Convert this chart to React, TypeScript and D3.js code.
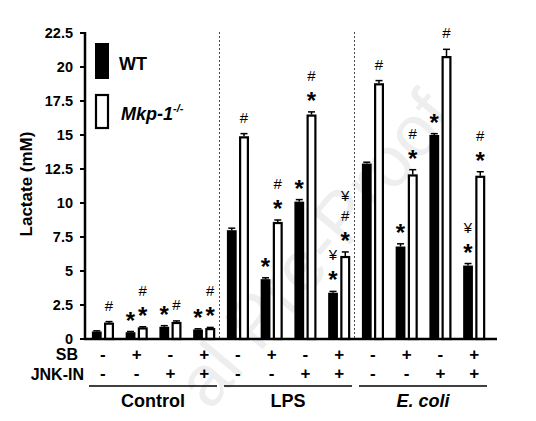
import * as d3 from "d3";

// groups and treatment rows
const groups = ["Control", "LPS", "E. coli"];
const sbRow = ["-", "+", "-", "+"];
const jnkRow = ["-", "-", "+", "+"];

// lactate (mM), 12 conditions: 3 groups x 4 treatments
const wtMeans = [0.55, 0.5, 0.9, 0.7, 8.0, 4.4, 10.1, 3.4, 12.9, 6.8, 15.0, 5.4];
const wtErr = [0.05, 0.05, 0.08, 0.05, 0.15, 0.1, 0.15, 0.1, 0.1, 0.2, 0.1, 0.15];
const koMeans = [1.2, 0.85, 1.25, 0.8, 14.9, 8.6, 16.5, 6.1, 18.8, 12.1, 20.8, 12.0];
const koErr = [0.08, 0.05, 0.08, 0.05, 0.2, 0.15, 0.2, 0.3, 0.2, 0.35, 0.5, 0.3];

// significance marks, listed bottom to top
const wtMarks = ["", "*", "*", "*", "", "*", "*", "*¥", "", "*", "*", "*¥"];
const koMarks = ["#", "*#", "#", "*#", "#", "*#", "*#", "*#¥", "#", "*#", "#", "*#"];

const yTicks = [0, 2.5, 5, 7.5, 10, 12.5, 15, 17.5, 20, 22.5];

const W = 536;
const H = 421;
const font = "'Liberation Sans', Arial, sans-serif";

export default function App() {
  const conds = d3.range(12);
  const x = d3.scaleBand<number>().domain(conds).range([86, 491]);
  const inner = d3
    .scaleBand<string>()
    .domain(["wt", "ko"])
    .range([5.9, 27.9])
    .paddingInner(0.2);
  const y = d3.scaleLinear().domain([0, 22.5]).range([339, 33]);
  const bw = inner.bandwidth();

  const series = [
    { key: "wt", means: wtMeans, errs: wtErr, marks: wtMarks },
    { key: "ko", means: koMeans, errs: koErr, marks: koMarks },
  ];

  const markEl = (ch: string, cx: number, cy: number, k: string) => {
    if (ch === "*")
      return (
        <text key={k} x={cx} y={cy + 13} textAnchor="middle" fontSize={24} fontWeight="bold">
          *
        </text>
      );
    return (
      <text key={k} x={cx} y={cy + 5} textAnchor="middle" fontSize={15}>
        {ch}
      </text>
    );
  };

  return (
    <svg
      width={W}
      height={H}
      style={{ position: "absolute", left: 0, top: 0, background: "#fff" }}
      fontFamily={font}
    >
      {/* watermark */}
      <text transform="translate(210,412) rotate(-50)" fontSize={72} fill="#eeeeee">
        al Pre-Proof
      </text>

      {/* dashed separators */}
      {[4, 8].map((i) => (
        <line
          key={i}
          x1={(x(i) as number) - 1.5}
          x2={(x(i) as number) - 1.5}
          y1={32}
          y2={339}
          stroke="#333"
          strokeWidth={0.9}
          strokeDasharray="2,2"
        />
      ))}

      {/* bars */}
      {conds.map((c) =>
        series.map((s) => {
          const x0 = (x(c) as number) + (inner(s.key) as number);
          const v = s.means[c];
          const top = y(v);
          const eTop = y(v + s.errs[c]);
          const cx = x0 + bw / 2;
          const isWt = s.key === "wt";
          const symbols = Array.from(s.marks[c]);
          return (
            <g key={`${c}-${s.key}`}>
              {isWt ? (
                <rect x={x0} y={top} width={bw} height={339 - top} fill="#000" />
              ) : (
                <rect
                  x={x0 + 1}
                  y={top + 1}
                  width={bw - 2}
                  height={338 - top}
                  fill="#fff"
                  stroke="#000"
                  strokeWidth={2.2}
                />
              )}
              <line x1={cx} x2={cx} y1={top} y2={eTop} stroke="#000" strokeWidth={1.5} />
              <line x1={cx - 3.5} x2={cx + 3.5} y1={eTop} y2={eTop} stroke="#000" strokeWidth={1.5} />
              {symbols.map((ch, j) => markEl(ch, cx, eTop - 16 - j * 20, `m${j}`))}
            </g>
          );
        })
      )}

      {/* axes */}
      <line x1={85} x2={85} y1={32} y2={340} stroke="#000" strokeWidth={2.5} />
      <line x1={84} x2={497} y1={339} y2={339} stroke="#000" strokeWidth={2.5} />
      {yTicks.map((t) => (
        <g key={t}>
          <line x1={80} x2={85} y1={y(t)} y2={y(t)} stroke="#000" strokeWidth={2} />
          <text x={73} y={y(t) + 5} textAnchor="end" fontSize={14.5} fontWeight="bold">
            {String(t)}
          </text>
        </g>
      ))}
      <text
        transform="translate(32,184) rotate(-90)"
        textAnchor="middle"
        fontSize={17}
        fontWeight="bold"
      >
        Lactate (mM)
      </text>

      {/* legend */}
      <rect x={95} y={43} width={14} height={36} fill="#000" />
      <text x={119} y={70} fontSize={18} fontWeight="bold">
        WT
      </text>
      <rect x={96} y={95} width={12} height={33} fill="#fff" stroke="#000" strokeWidth={2.2} />
      <text x={121} y={120} fontSize={18} fontWeight="bold" fontStyle="italic">
        Mkp-1
        <tspan fontSize={11} dy={-8}>
          -/-
        </tspan>
      </text>

      {/* treatment rows */}
      <text x={78} y={360} textAnchor="end" fontSize={16} fontWeight="bold">
        SB
      </text>
      <text x={84} y={380} textAnchor="end" fontSize={16} fontWeight="bold">
        JNK-IN
      </text>
      {conds.map((c) => {
        const cx = (x(c) as number) + x.bandwidth() / 2;
        return (
          <g key={`t${c}`} fontSize={17} fontWeight="bold" textAnchor="middle">
            <text x={cx} y={360}>
              {sbRow[c % 4]}
            </text>
            <text x={cx} y={379}>
              {jnkRow[c % 4]}
            </text>
          </g>
        );
      })}

      {/* group labels */}
      {groups.map((g, i) => {
        const x1 = (x(i * 4) as number) + 3;
        const x2 = (x(i * 4 + 3) as number) + x.bandwidth() - 4;
        return (
          <g key={g}>
            <line x1={x1} x2={x2} y1={386} y2={386} stroke="#000" strokeWidth={1.6} />
            <text
              x={(x1 + x2) / 2}
              y={407}
              textAnchor="middle"
              fontSize={18}
              fontWeight="bold"
              fontStyle={g === "E. coli" ? "italic" : "normal"}
            >
              {g}
            </text>
          </g>
        );
      })}
    </svg>
  );
}
